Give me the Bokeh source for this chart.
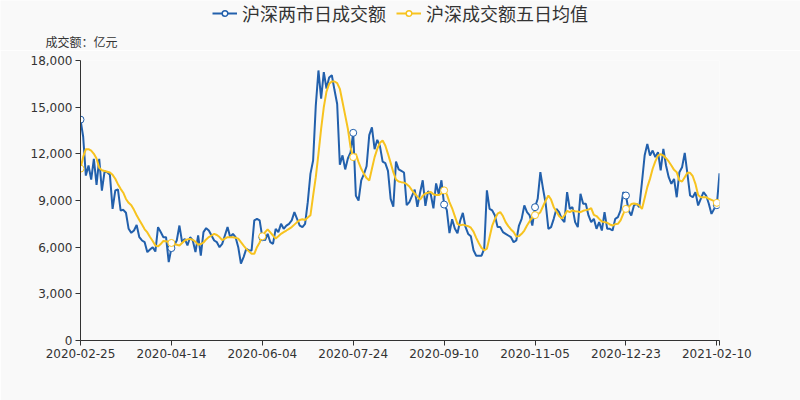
import pandas as pd
from bokeh.plotting import figure
from bokeh.layouts import column
from bokeh.models import Range1d, FixedTicker, NumeralTickFormatter, Legend, LegendItem, Label
from bokeh.embed import file_html
from bokeh.resources import INLINE

# ---- data -------------------------------------------------------------
holidays = ["2020-04-06", "2020-05-01", "2020-05-04", "2020-05-05", "2020-06-25",
            "2020-06-26", "2020-10-01", "2020-10-02", "2020-10-05", "2020-10-06",
            "2020-10-07", "2020-10-08", "2021-01-01", "2021-02-11", "2021-02-12",
            "2021-02-15", "2021-02-16", "2021-02-17"]
days = [d.strftime("%Y-%m-%d") for d in pd.bdate_range("2020-02-25", "2021-02-18")
        if d.strftime("%Y-%m-%d") not in holidays]

series_names = ["沪深两市日成交额", "沪深成交额五日均值"]
unit_text = "成交额：亿元"

# 沪深两市日成交额 (亿元)
daily = [
    14200, 13100, 10600, 11250, 10350, 11680, 10010, 11680, 9640, 10860,
    10820, 10650, 8460, 9640, 9710, 8360, 8400, 8210, 7180, 6920,
    7070, 7430, 6640, 6430, 6320, 5680, 5850, 6000, 5720, 7290,
    6970, 6640, 6640, 5040, 5940, 6110, 6430, 7390, 6320, 6530,
    6110, 6640, 6430, 5680, 6750, 5460, 6970, 7220, 7070, 6750,
    6430, 6320, 6000, 6210, 6750, 7290, 6640, 6860, 6640, 6000,
    4950, 5360, 5890, 5790, 5790, 7720, 7820, 7720, 6640, 6430,
    6860, 6320, 6210, 7180, 6970, 7500, 7180, 7390, 7500, 7720,
    8250, 7820, 7390, 7290, 7500, 8890, 10710, 11570, 15100, 17360,
    15540, 17250, 16200, 16900, 17050, 16100, 15200, 11300, 11900, 11000,
    11700, 12100, 13350, 9300, 9000, 10300, 10700, 11200, 13200, 13700,
    12300, 12900, 12500, 11500, 11400, 10900, 9100, 8600, 11500, 11000,
    10900, 10800, 8700, 8900, 9300, 9700, 8600, 9500, 10300, 8650,
    9600, 9400, 8500, 10100, 9400, 10300, 8740, 8400, 6900, 7800,
    7200, 6900, 7700, 8200, 7300, 6850, 6700, 5800, 5450, 5450,
    5450, 5900, 9650, 8460, 8360, 8040, 7290, 7290, 6970, 6860,
    6750, 6640, 6320, 6430, 7390, 7820, 8680, 8250, 8040, 7390,
    8570, 9110, 10820, 9750, 8790, 7180, 7290, 7820, 8460, 8250,
    7820, 7610, 9540, 8460, 8570, 7610, 7290, 9430, 8790, 8790,
    8040, 7610, 7820, 7180, 7610, 7070, 8250, 7180, 7180, 7070,
    7820, 7930, 8360, 9540, 9320, 8360, 8040, 8680, 8790, 8570,
    10180, 11890, 12640, 11890, 12210, 11790, 12110, 10930, 12320, 11250,
    10500, 10070, 10390, 9210, 10820, 11140, 12060, 10710, 9320, 9210,
    9540, 8680, 9110, 9540, 9320, 8790, 8140, 8460, 8700, 10750,
]

# 沪深成交额五日均值 (亿元)
ma5 = [
    11050, 11800, 12300, 12300, 12200, 12000, 11700, 11100, 10950, 10900,
    10850, 10800, 10650, 10400, 10050, 9750, 9500, 9100, 8850, 8700,
    8400, 8050, 7750, 7450, 7150, 6950, 6650, 6400, 6100, 6050,
    6200, 6400, 6380, 6330, 6270, 6210, 6160, 6110, 6270, 6430,
    6500, 6530, 6470, 6350, 6150, 6200, 6300, 6500, 6650, 6750,
    6850, 6780, 6650, 6450, 6550, 6640, 6640, 6640, 6600, 6550,
    6320, 6100, 5890, 5730, 5570, 5570, 6000, 6300, 6700, 6950,
    7150, 6950, 6750, 6550, 6700, 6860, 6970, 7070, 7180, 7290,
    7450, 7610, 7750, 7800, 7750, 7900, 8050, 9300, 10500, 12000,
    13600, 15000, 16000, 16500, 16650, 16650, 16550, 16180, 15330, 14470,
    13610, 12430, 11790, 12000, 11470, 11040, 10710, 10440, 10290, 11040,
    11790, 12320, 12710, 12860, 12540, 12000, 11420, 10820, 10350, 10220,
    10180, 10150, 10050, 9900, 9650, 9450, 9250, 9050, 9300, 9450,
    9500, 9550, 9400, 9350, 9350, 9450, 9650, 9400, 8900, 8500,
    8000, 7500, 7400, 7450, 7400, 7350, 7250, 7000, 6600, 6250,
    5950, 5800, 5900, 6640, 7390, 7820, 8150, 8250, 8000, 7610,
    7350, 7140, 6970, 6690, 6710, 6860, 7070, 7390, 7670, 7930,
    8060, 8100, 8250, 8630, 9000, 9320, 9060, 8570, 8290, 8000,
    7840, 8040, 8340, 8250, 8360, 8310, 8290, 8250, 8340, 8380,
    8420, 8510, 8080, 8000, 7820, 7650, 7610, 7570, 7460, 7390,
    7480, 7500, 7720, 8140, 8460, 8570, 8770, 8810, 8770, 8680,
    8460, 9150, 9860, 10390, 11040, 11510, 11890, 11980, 11890, 11720,
    11510, 11250, 10970, 10820, 10290, 10220, 10500, 10780, 10780, 10560,
    10070, 9360, 9210, 9210, 9210, 9110, 9040, 8960, 8850,
]

y_ticks = [0, 3000, 6000, 9000, 12000, 15000, 18000]
label_step = 34

# ---- styles -----------------------------------------------------------
BLUE = "#2260ac"
YELLOW = "#f7c31f"
BG = "#f9f9f9"
TXT = "#333333"
CJK = "Noto Sans CJK SC"

n = len(days)
x_daily = list(range(len(daily)))
x_ma = list(range(len(ma5)))
label_idx = list(range(0, n, label_step))
mark_idx = [i for i in label_idx if i < len(ma5)]
NAN = float("nan")

# ---- header strip: legend + unit label --------------------------------
top = figure(width=800, height=50, output_backend="svg", toolbar_location=None,
             x_range=Range1d(0, 800), y_range=Range1d(50, 0),
             x_axis_type=None, y_axis_type=None,
             min_border_left=0, min_border_right=0, min_border_top=0, min_border_bottom=0,
             background_fill_color=BG, border_fill_color=BG, outline_line_color=None)
if "frame_align" in top.properties():
    top.frame_align = False
top.xgrid.visible = False
top.ygrid.visible = False
# legend keys only (placeholder point, nothing drawn in the strip)
kl1 = top.line([NAN], [NAN], line_width=2, color=BLUE)
ks1 = top.scatter([NAN], [NAN], size=10, fill_color="white", line_color=BLUE, line_width=1.5)
kl2 = top.line([NAN], [NAN], line_width=2, color=YELLOW)
ks2 = top.scatter([NAN], [NAN], size=10, fill_color="white", line_color=YELLOW, line_width=1.5)
legend = Legend(items=[LegendItem(label=series_names[0], renderers=[kl1, ks1]),
                       LegendItem(label=series_names[1], renderers=[kl2, ks2])],
                orientation="horizontal", location="top",
                label_text_font=CJK, label_text_font_size="18px",
                label_text_color=TXT, glyph_width=25, glyph_height=14,
                label_standoff=5, spacing=10, padding=0, margin=0,
                border_line_color=None, background_fill_alpha=0)
top.add_layout(legend)
top.add_layout(Label(x=45, y=41, text=unit_text, text_font=CJK, text_font_size="12px",
                     text_color=TXT, text_baseline="middle", text_align="left"))

# ---- main chart -------------------------------------------------------
fig = figure(width=800, height=350, output_backend="svg", toolbar_location=None,
             x_range=Range1d(0, n - 1), y_range=Range1d(0, 18000),
             min_border_left=80, min_border_right=81, min_border_top=10, min_border_bottom=60,
             background_fill_color=BG, border_fill_color=BG, outline_line_color=None)
if "frame_align" in fig.properties():
    fig.frame_align = False
fig.xgrid.visible = False
fig.ygrid.visible = False

fig.line(x_daily, daily, line_width=2, color=BLUE)
fig.scatter(mark_idx, [daily[i] for i in mark_idx], size=7,
            fill_color="white", line_color=BLUE, line_width=1)
fig.line(x_ma, ma5, line_width=2, color=YELLOW)
fig.scatter(mark_idx, [ma5[i] for i in mark_idx], size=7,
            fill_color="white", line_color=YELLOW, line_width=1)

fig.xaxis.ticker = FixedTicker(ticks=label_idx + [n - 1])
overrides = {i: days[i] for i in label_idx}
if (n - 1) not in label_idx:
    overrides[n - 1] = ""
fig.xaxis.major_label_overrides = overrides
fig.yaxis.ticker = FixedTicker(ticks=y_ticks)
fig.yaxis.formatter = NumeralTickFormatter(format="0,0")
for ax in (fig.xaxis[0], fig.yaxis[0]):
    ax.axis_line_color = TXT
    ax.major_tick_line_color = TXT
    ax.major_tick_out = 5
    ax.major_tick_in = 0
    ax.minor_tick_out = 0
    ax.minor_tick_in = 0
    ax.major_label_text_font = "DejaVu Sans"
    ax.major_label_text_font_size = "12px"
    ax.major_label_text_color = TXT
    ax.major_label_standoff = 3

p = column(top, fig, spacing=0)

open("out.html", "w").write(file_html(p, INLINE))
